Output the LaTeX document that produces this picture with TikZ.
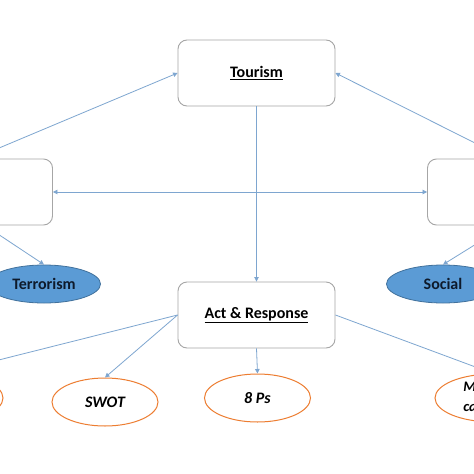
\documentclass[tikz,border=0pt]{standalone}
\usepackage{fontspec}
\setmainfont{Carlito}
\usetikzlibrary{arrows.meta,shapes.geometric}
\definecolor{boxgray}{HTML}{A6A6A6}
\definecolor{linkblue}{HTML}{7EA6D0}
\definecolor{fillblue}{HTML}{5B9BD5}
\definecolor{edgeblue}{HTML}{41719C}
\definecolor{orangeedge}{HTML}{ED7D31}
\definecolor{darktext}{HTML}{0E1A2B}
\tikzset{
  mainbox/.style={draw=boxgray, line width=0.9pt, rounded corners=9pt, fill=white,
    minimum width=157pt, minimum height=66pt, inner sep=0pt,
    font=\fontsize{16}{19}\selectfont\bfseries},
  blueell/.style={ellipse, draw=edgeblue, line width=0.8pt, fill=fillblue,
    minimum width=113pt, minimum height=38pt, inner sep=0pt, text=darktext,
    font=\fontsize{16}{19}\selectfont\bfseries},
  orangeell/.style={ellipse, draw=orangeedge, line width=1pt, fill=white,
    minimum width=106pt, minimum height=48pt, inner sep=0pt,
    font=\fontsize{16}{19}\selectfont\bfseries\itshape},
  link/.style={draw=linkblue, line width=0.8pt},
  tip/.style={-{Triangle[length=4.5pt,width=4.5pt]}},
  dtip/.style={{Triangle[length=4.5pt,width=4.5pt]}-{Triangle[length=4.5pt,width=4.5pt]}},
}
\begin{document}
\begin{tikzpicture}[x=1pt,y=-1pt]
\useasboundingbox (0,0) rectangle (474,474);
\clip (0,0) rectangle (474,474);
\fill[white] (0,0) rectangle (474,474);
% boxes
\node[mainbox] (tour) at (256.5,73) {\underline{Tourism}};
\node[mainbox] (lbox) at (-26,192) {};
\node[mainbox] (rbox) at (506,192) {};
\node[mainbox] (act) at (256.5,315) {\underline{Act \& Response}};
% ellipses
\node[blueell] (terr) at (44,284) {Terrorism};
\node[blueell] (soc) at (443,284) {Social};
\node[orangeell, minimum width=116pt] (lell) at (-55,398) {};
\node[orangeell] (swot) at (105,402) {SWOT};
\node[orangeell] (eight) at (257.5,398) {8 Ps};
\node[orangeell, minimum width=116pt, align=left,
  font=\fontsize{14.5}{20}\selectfont\bfseries\itshape] (media) at (493,398) {Media\\campaign};
% connectors
\draw[link,tip] (lbox.north) -- (tour.west);
\draw[link,tip] (rbox.north) -- (tour.east);
\draw[link,dtip] (lbox.east) -- (rbox.west);
\draw[link,tip] (tour.south) -- (act.north);
\draw[link,tip] ([xshift=11]lbox.south) -- (terr.north);
\draw[link,tip] (rbox.south) -- (soc.north);
\draw[link,tip] (act.west) -- (lell.north);
\draw[link,tip] (act.west) -- (swot.north);
\draw[link,tip] (act.south) -- (eight.north);
\draw[link,tip] (act.east) -- (media.north);
\end{tikzpicture}
\end{document}
